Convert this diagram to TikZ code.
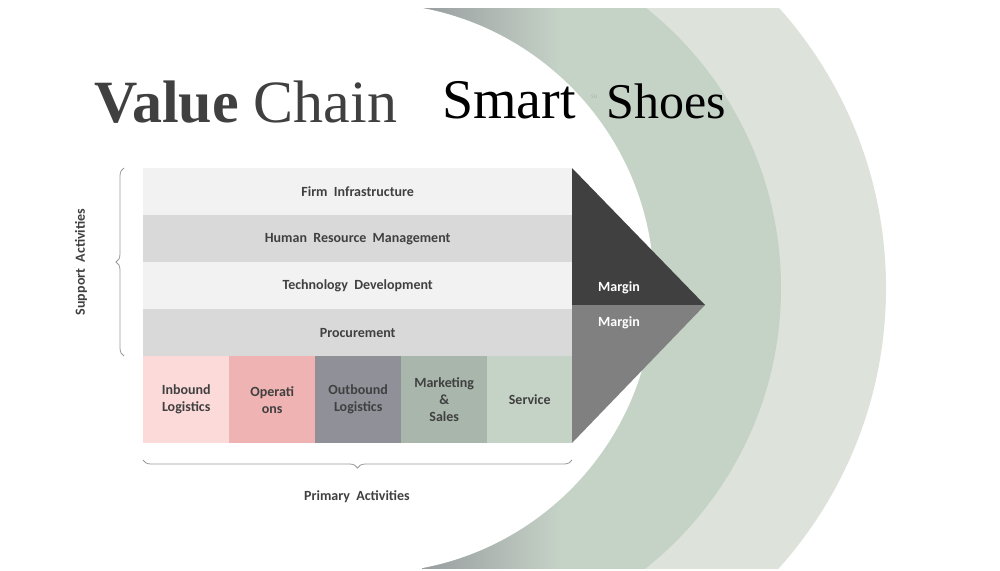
\documentclass[tikz,border=0pt]{standalone}
\usepackage{fontspec}
\setmainfont{Carlito}
\newfontfamily\titlefont{Liberation Serif}
\usetikzlibrary{decorations.pathreplacing}
\definecolor{txt}{HTML}{404040}
\definecolor{bandG}{HTML}{C5D2C6}
\definecolor{bandL}{HTML}{DDE2DA}
\definecolor{bandGray}{HTML}{989DA0}
\definecolor{rowA}{HTML}{F2F2F2}
\definecolor{rowB}{HTML}{D9D9D9}
\definecolor{cA}{HTML}{FDDADA}
\definecolor{cB}{HTML}{F0B3B3}
\definecolor{cC}{HTML}{8F9098}
\definecolor{cD}{HTML}{A8B6AB}
\definecolor{cE}{HTML}{C5D2C6}
\begin{document}
\begin{tikzpicture}[x=1pt,y=-1pt,
  lbl/.style={font=\fontsize{14}{17}\selectfont\bfseries,text=txt,align=center},
  cellbox/.style={draw=none,minimum height=87pt,minimum width=86pt,inner sep=0pt,anchor=north west},
  rowbox/.style={minimum height=47pt,minimum width=429pt,inner sep=0pt,anchor=north west},
  bracesty/.style={draw=gray!80,thick,decorate,decoration={brace,amplitude=8pt}}]
\useasboundingbox (0,0) rectangle (1000,570);
\fill[white] (0,0) rectangle (1000,570);
% arcs
\begin{scope}
\clip (422,8) rectangle (1000,568);
\fill[bandL] (466,288) circle (420);
\begin{scope}
\clip (423,288) circle (358);
\shade[left color=bandGray,right color=bandG] (422,0) rectangle (560,570);
\fill[bandG] (559,0) rectangle (1000,570);
\end{scope}
\fill[white] (369,288) circle (285);
\end{scope}
% title
\node[anchor=base west,inner sep=0pt,text=txt,font=\titlefont\fontsize{60}{60}\selectfont] (t1) at (94,122) {\textbf{Value} Chain};
\node[anchor=base west,inner sep=0pt,text=black,font=\titlefont\fontsize{56}{56}\selectfont] (t2) at (442,118) {Smart};
\node[anchor=base west,inner sep=0pt,text=gray!60,font=\fontsize{7}{7}\selectfont] (t3) at (591,98) {su};
\node[anchor=base west,inner sep=0pt,text=black,font=\titlefont\fontsize{50}{50}\selectfont] (t4) at (606,118) {Shoes};
% support rows
\node[rowbox,fill=rowA,lbl] (r1) at (143,168) {Firm\ \ Infrastructure};
\node[rowbox,fill=rowB,lbl] (r2) at (143,215) {Human\ \ Resource\ \ Management};
\node[rowbox,fill=rowA,lbl] (r3) at (143,262) {Technology\ \ Development};
\node[rowbox,fill=rowB,lbl] (r4) at (143,309) {Procurement};
% primary
\node[cellbox,fill=cA,lbl] (p1) at (143,356) {Inbound\\Logistics};
\node[cellbox,fill=cB,lbl] (p2) at (229,356) {Operati\\ons};
\node[cellbox,fill=cC,lbl] (p3) at (315,356) {Outbound\\Logistics};
\node[cellbox,fill=cD,lbl] (p4) at (401,356) {Marketing\\\&\\Sales};
\node[cellbox,fill=cE,lbl,minimum width=85pt] (p5) at (487,356) {Service};
% margin arrow
\fill[txt] (572,168) -- (705,305) -- (572,305) -- cycle;
\fill[gray] (572,305) -- (705,305) -- (572,443) -- cycle;
\node[lbl,text=white] (m1) at (619,288) {Margin};
\node[lbl,text=white] (m2) at (619,323) {Margin};
% braces
\coordinate (b1) at (124,356); \coordinate (b2) at (124,168);
\draw[bracesty] (b1) -- (b2);
\node[lbl,rotate=90] (sa) at (81,262) {Support\ \ Activities};
\coordinate (b3) at (572,460); \coordinate (b4) at (143,460);
\draw[bracesty] (b3) -- (b4);
\node[lbl] (pa) at (357,497) {Primary\ \ Activities};
\end{tikzpicture}
\end{document}
